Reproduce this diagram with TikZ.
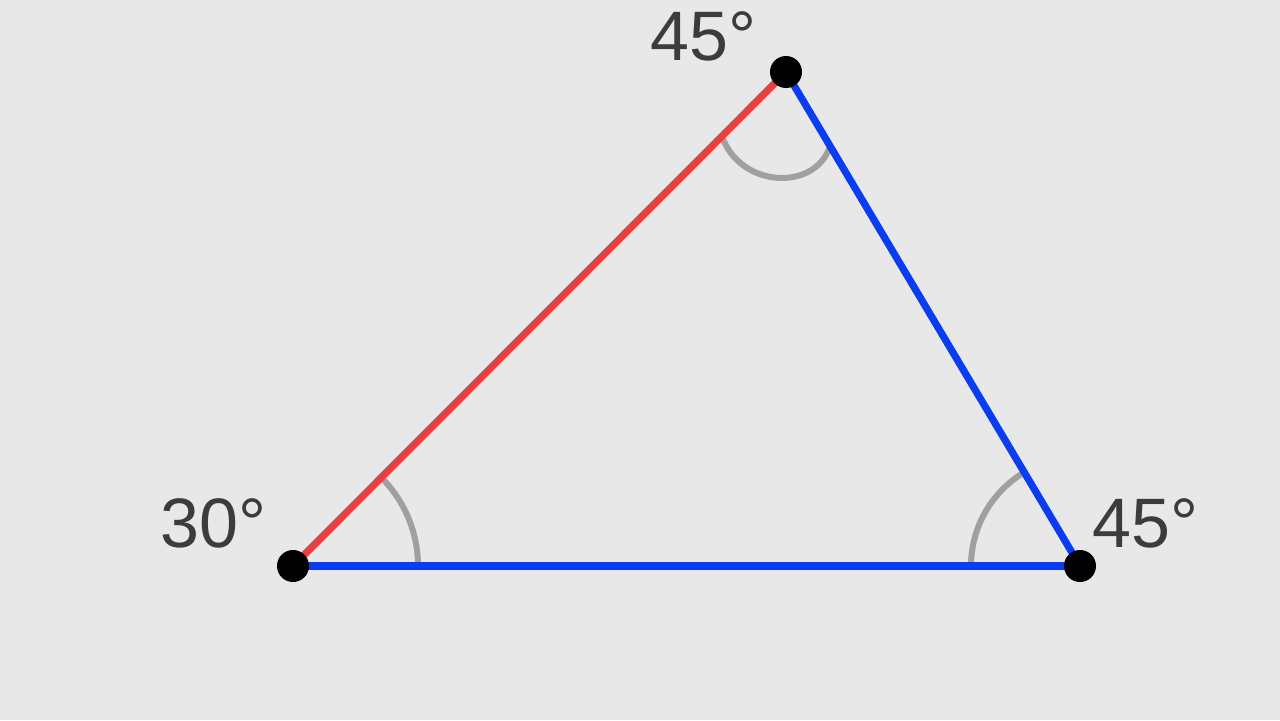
\documentclass[tikz,border=0pt]{standalone}
\usepackage{fontspec}
\setmainfont{Liberation Sans}
\usetikzlibrary{positioning,calc}
\definecolor{bgcol}{RGB}{232,232,232}
\definecolor{redline}{RGB}{232,64,64}
\definecolor{blueline}{RGB}{10,60,240}
\definecolor{arccol}{RGB}{160,160,160}
\definecolor{textcol}{RGB}{60,60,60}
\tikzset{
dot/.style = {draw=none,fill=black,circle,inner sep=0pt,outer sep=0pt,minimum size=16pt},
side/.style={-,line width=3.6pt},
anglearc/.style={-,line width=3pt,draw=arccol},
lbl/.style={inner sep=0pt,text=textcol,font=\fontsize{35}{35}\selectfont},
}

\begin{document}
\begin{tikzpicture}[x=0.5pt,y=0.5pt]
  \fill[bgcol] (0,0) rectangle (1280,720);
  \useasboundingbox (0,0) rectangle (1280,720);

  \coordinate (A) at (293,154);
  \coordinate (B) at (1080,154);
  \coordinate (C) at (786,648);

  % angle marks
  \draw[anglearc] ($(A)+(125,0)$) arc[start angle=0,end angle=45,radius=125];
  \draw[anglearc] ($(B)+(-109,0)$) arc[start angle=180,end angle=120.8,radius=109];
  \draw[anglearc] ($(C)!0.13!(A)$) .. controls (740,532) and (815,528) .. ($(C)!0.15!(B)$);

  % sides
  \draw[side,blueline] (A) -- (B);
  \draw[side,blueline] (B) -- (C);
  \draw[side,redline] (A) -- (C);

  \node[dot] (nA) at (A) {};
  \node[dot] (nB) at (B) {};
  \node[dot] (nC) at (C) {};

  \node[lbl,anchor=base west] (lA) at (160,173) {30°};
  \node[lbl,anchor=base west] (lB) at (1092,173) {45°};
  \node[lbl,anchor=base west] (lC) at (650,660) {45°};
\end{tikzpicture}
\end{document}
